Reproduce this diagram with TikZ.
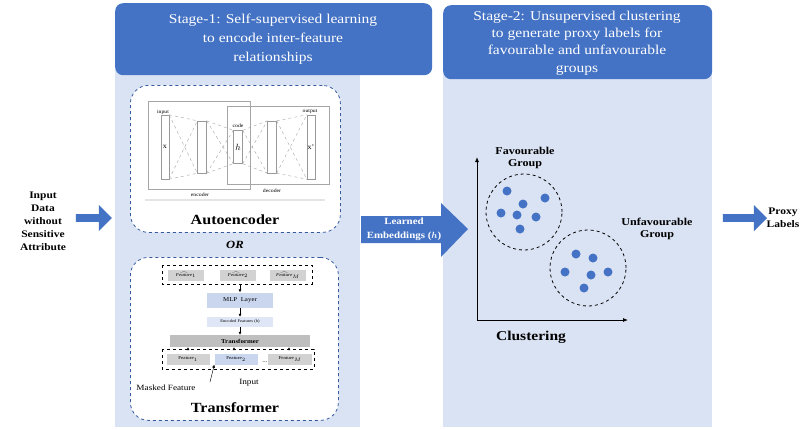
\documentclass[tikz,border=0pt]{standalone}
\usepackage{amsmath}
\usepackage{bm}
\usepackage{fontspec}
\setmainfont{Liberation Serif}[FakeStretch=1.15]
\usetikzlibrary{shapes.arrows,arrows.meta}
\definecolor{hblue}{HTML}{4472C4}
\definecolor{bgblue}{HTML}{DAE3F3}
\definecolor{boxblue}{HTML}{C9D6EE}
\definecolor{gbox}{HTML}{BFBFBF}
\begin{document}
\begin{tikzpicture}[x=1pt,y=-1pt,
  hdr/.style={fill=hblue,rounded corners=8pt,draw=none},
  htxt/.style={text=white,align=center,font=\fontsize{13.5}{19}\selectfont},
  dbox/.style={draw=hblue!80!black,dashed,rounded corners=18pt,fill=white,line width=0.8pt},
  bl/.style={font=\bfseries\fontsize{10.5}{12}\selectfont,align=center},
  dot/.style={circle,fill=hblue,inner sep=0pt,minimum size=9pt},
  ln/.style={draw=gray!70,line width=0.4pt},
  dl/.style={draw=gray!70,dashed,line width=0.4pt},
  fb/.style={fill=gbox!70,minimum width=36pt,minimum height=11pt,inner sep=0pt,font=\fontsize{4.5}{5}\selectfont},
  up/.style={-{Latex[length=3pt,width=3pt]},line width=0.8pt}]
\useasboundingbox (0,0) rectangle (800,429);
\fill[white] (0,0) rectangle (800,429);
% panels
\fill[bgblue] (115,55) rectangle (360,427);
\fill[bgblue] (443,55) rectangle (712,427);
\node[hdr,minimum width=317pt,minimum height=72pt,anchor=north west] (h1) at (115,3) {};
\node[htxt] (h1t) at (273,39) {Stage-1: Self-supervised learning\\to encode inter-feature\\relationships};
\node[hdr,minimum width=269pt,minimum height=74pt,anchor=north west] (h2) at (443,5) {};
\node[htxt,font=\fontsize{13.5}{17.3}\selectfont] (h2t) at (577,43) {Stage-2: Unsupervised clustering\\to generate proxy labels for\\favourable and unfavourable\\groups};
% Inputs
\node[bl,font=\bfseries\fontsize{10}{13}\selectfont] (inp) at (43,221) {Input\\Data\\without\\Sensitive\\Attribute};
\node[single arrow,fill=hblue,minimum height=36pt,minimum width=26pt,single arrow head extend=5pt,inner sep=2pt] (a1) at (92,218) {};
% autoencoder
\node[dbox,minimum width=210pt,minimum height=147pt,anchor=north west] (ae) at (130,85) {};
\draw[ln] (148,101) rectangle (250,189);
\draw[ln] (227,106) rectangle (329,184);
\node[draw=gray!80,fill=white,minimum width=8pt,minimum height=64pt,inner sep=0pt] (l1) at (165,147) {\fontsize{7}{7}\selectfont x};
\node[draw=gray!80,fill=white,minimum width=9pt,minimum height=52pt,inner sep=0pt] (l2) at (202,147) {};
\node[draw=gray!80,fill=white,minimum width=9pt,minimum height=33pt,inner sep=0pt] (l3) at (238,147) {\fontsize{9}{9}\selectfont$h$};
\node[draw=gray!80,fill=white,minimum width=9pt,minimum height=52pt,inner sep=0pt] (l4) at (272,147) {};
\node[draw=gray!80,fill=white,minimum width=8pt,minimum height=64pt,inner sep=0pt] (l5) at (311,147) {\fontsize{7}{7}\selectfont x'};
\foreach \a/\b in {l1/l2,l2/l3,l3/l4,l4/l5}{
  \draw[dl] (\a.north east) -- (\b.north west);
  \draw[dl] (\a.south east) -- (\b.south west);
  \draw[dl] (\a.north east) -- (\b.south west);
  \draw[dl] (\a.south east) -- (\b.north west);}
\node[font=\fontsize{5}{6}\selectfont] (ti) at (163,112) {input};
\node[font=\fontsize{5}{6}\selectfont] (tc) at (238,126) {code};
\node[font=\fontsize{5}{6}\selectfont] (to) at (310,112) {output};
\node[font=\fontsize{5}{6}\selectfont] (te) at (200,195) {encoder};
\node[font=\fontsize{5}{6}\selectfont] (td) at (272,191) {decoder};
\draw[gray!20,line width=1.5pt] (145,200) -- (325,200);
\node[font=\bfseries\fontsize{14}{15}\selectfont] (aet) at (235,220) {Autoencoder};
\node[font=\bfseries\itshape\fontsize{11}{13}\selectfont] (or) at (235,245) {OR};
% transformer
\node[dbox,minimum width=208pt,minimum height=163pt,anchor=north west] (tr) at (130,257) {};
\draw[dashed,line width=0.8pt] (162,265) rectangle (312,284);
\node[fb] (o1) at (186,275) {$\widehat{\textit{Feature}}_1$};
\node[fb] (o2) at (238,275) {$\widehat{\textit{Feature}}_2$};
\node[fb] (o3) at (288,275) {$\widehat{\textit{Feature}}_M$};
\node[fill=boxblue,minimum width=66pt,minimum height=15pt,inner sep=0pt,font=\fontsize{6}{7}\selectfont] (mlp) at (240,300) {MLP\ \ Layer};
\node[fill=boxblue!60,minimum width=66pt,minimum height=10pt,inner sep=0pt,font=\fontsize{4}{5}\selectfont] (enc) at (240,322) {Encoded Features (h)};
\node[fill=gbox,minimum width=140pt,minimum height=12pt,inner sep=0pt,font=\bfseries\fontsize{6}{7}\selectfont] (tf) at (240,341) {Transformer};
\draw[dashed,line width=0.8pt] (162,349) rectangle (314,369);
\node[fb,minimum width=43pt] (f1) at (188,359) {Feature$_1$};
\node[fb,minimum width=43pt,fill=boxblue] (f2) at (236,359) {Feature$_2$};
\node[font=\fontsize{6}{6}\selectfont] (dd) at (265,362) {...};
\node[fb,minimum width=44pt] (f3) at (290,359) {Feature$_M$};
\draw[up] (240,284) -- (mlp.north);
\draw[up] (mlp.south) -- (enc.north);
\draw[up] (enc.south) -- (tf.north);
\draw[up] (188,349) -- (188,347);
\draw[up] (234,349) -- (234,347);
\draw[up] (289,349) -- (289,347);
\node[font=\fontsize{8}{9}\selectfont] (mf) at (166,388) {Masked Feature};
\node[font=\fontsize{8}{9}\selectfont] (ip) at (249,383) {Input};
\draw[-{Latex[length=3pt,width=3pt]}] (210,382) -- (f2.south west);
\node[font=\bfseries\fontsize{14}{15}\selectfont] (trt) at (235,408) {Transformer};
% middle arrow
\fill[hblue] (361,216) -- (441,216) -- (441,203) -- (468,229) -- (441,257) -- (441,243) -- (361,243) -- cycle;
\node[text=white,font=\bfseries\fontsize{9.5}{14}\selectfont,align=center] (a2t) at (404,229) {Learned\\Embeddings ($\bm{h}$)};
% clustering
\coordinate (O) at (477,320);
\coordinate (Y) at (477,157);
\coordinate (X) at (628,320);
\draw[-{Latex[length=5pt,width=4pt]},line width=0.8pt] (O) -- (Y);
\draw[-{Latex[length=5pt,width=4pt]},line width=0.8pt] (O) -- (X);
\node[draw,dashed,circle,minimum size=76pt,line width=0.8pt] (c1) at (524,212) {};
\node[draw,dashed,circle,minimum size=76pt,line width=0.8pt] (c2) at (588,268) {};
\foreach \p in {(507,191),(523,204),(545,198),(501,213),(517,215),(536,217),(520,229),(576,254),(593,258),(565,272),(591,275),(608,272),(584,288)}
  \node[dot] at \p {};
\node[bl] (fg) at (525,158) {Favourable\\Group};
\node[bl] (ug) at (657,229) {Unfavourable\\Group};
\node[font=\bfseries\fontsize{13.5}{15}\selectfont] (cl) at (531,337) {Clustering};
% output
\node[single arrow,fill=hblue,minimum height=44pt,minimum width=26pt,single arrow head extend=5pt,inner sep=2pt] (a3) at (743,218) {};
\node[bl,font=\bfseries\fontsize{10}{13}\selectfont] (pl) at (783,218) {Proxy\\Labels};
\end{tikzpicture}
\end{document}
